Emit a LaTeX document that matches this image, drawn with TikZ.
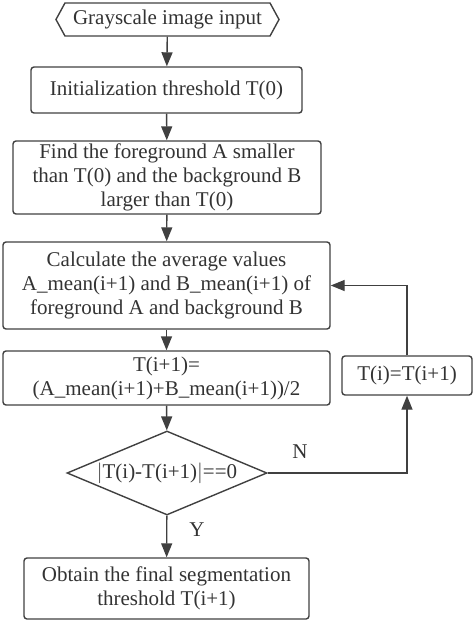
\documentclass[tikz,border=0pt]{standalone}
\usepackage{fontspec}
\setmainfont{Liberation Serif}
\usetikzlibrary{shapes.geometric,shapes.symbols,arrows.meta}
\begin{document}
\begin{tikzpicture}[x=1pt,y=-1pt,
		font=\fontsize{21}{24}\selectfont,
		every node/.style={text=black!80, align=center, inner sep=0pt},
		procbox/.style={draw=black!75, line width=1.4pt, rounded corners=3pt},
		flowline/.style={draw=black!75, line width=1.4pt, -{Triangle[length=14pt,width=11pt]}}]
	\useasboundingbox (0,0) rectangle (474,622);
	\node[draw=black!75, line width=1.4pt, signal, signal to=west and east, signal pointer angle=123,
		minimum width=223pt, minimum height=33pt] (input) at (167.5,19.5) {Grayscale image input};
	\node[procbox, minimum width=271pt, minimum height=46pt] (init) at (166.5,90) {Initialization threshold T(0)};
	\node[procbox, minimum width=308pt, minimum height=73pt] (find) at (167,177.5)
		{Find the foreground A smaller\\than T(0) and the background B\\larger than T(0)};
	\node[procbox, minimum width=327pt, minimum height=87pt] (calc) at (166.5,285.5)
		{Calculate the average values\\A\_mean(i+1) and B\_mean(i+1) of\\foreground A and background B};
	\node[procbox, minimum width=327pt, minimum height=54pt] (update) at (166.5,378)
		{T(i+1)=\\(A\_mean(i+1)+B\_mean(i+1))/2};
	\node[procbox, minimum width=130pt, minimum height=39pt] (swap) at (407,375.5) {T(i)=T(i+1)};
	\node[draw=black!75, line width=1.4pt, diamond, aspect=2.38, minimum width=200pt, minimum height=84pt]
		(check) at (167,473) {$|$T(i)-T(i+1)$|$==0};
	\node[procbox, minimum width=285pt, minimum height=61pt] (final) at (166.5,588.5)
		{Obtain the final segmentation\\threshold T(i+1)};
	\draw[flowline] (input) -- (init);
	\draw[flowline] (init) -- (find);
	\draw[flowline] (find) -- (calc);
	\draw[flowline] (calc) -- (update);
	\draw[flowline] (update) -- (check);
	\draw[flowline] (check) -- (final);
	\draw[flowline] (check.east) -| (swap.south);
	\draw[flowline] (swap.north) |- (calc.east);
	\node (no) at (300,452) {N};
	\node (yes) at (197,530) {Y};
\end{tikzpicture}
\end{document}
